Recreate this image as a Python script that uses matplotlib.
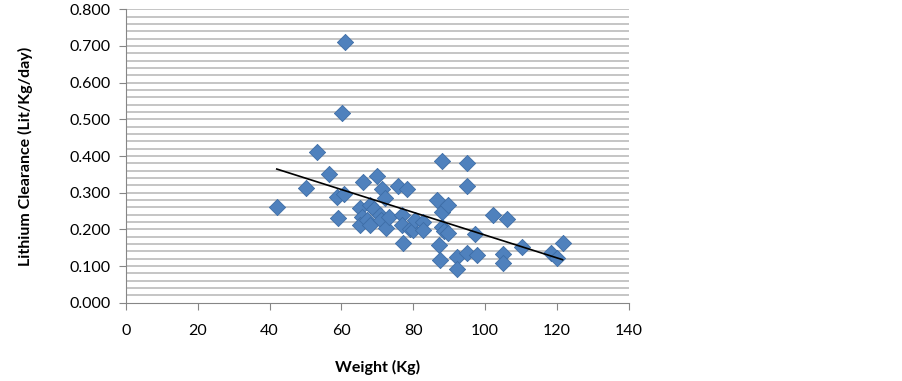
import matplotlib
matplotlib.use("Agg")
import matplotlib.pyplot as plt
import numpy as np

# DATA
weight = [42.0, 50.1, 53.1, 56.5, 58.7, 59.1, 60.1, 61.0, 60.8, 65.3,
          65.8, 65.2, 66.1, 67.0, 68.0, 68.0, 69.0, 70.0, 70.8, 71.0,
          71.2, 72.1, 72.3, 73.3, 75.9, 76.8, 76.8, 77.2, 78.4, 79.0,
          80.0, 80.4, 82.8, 82.8, 86.5, 87.3, 87.5, 87.9, 87.9, 87.9,
          88.5, 89.8, 89.8, 92.1, 92.1, 95.1, 95.1, 95.1, 97.2, 97.7,
          102.1, 105.1, 105.1, 106.0, 110.2, 118.3, 120.0, 121.6]
clearance = [0.260, 0.312, 0.410, 0.351, 0.287, 0.232, 0.518, 0.712, 0.297, 0.259,
             0.235, 0.212, 0.330, 0.225, 0.266, 0.212, 0.255, 0.346, 0.239, 0.225,
             0.310, 0.285, 0.203, 0.233, 0.318, 0.239, 0.212, 0.162, 0.310, 0.200,
             0.198, 0.226, 0.221, 0.198, 0.280, 0.158, 0.117, 0.386, 0.248, 0.207,
             0.195, 0.266, 0.189, 0.125, 0.093, 0.382, 0.319, 0.135, 0.187, 0.129,
             0.238, 0.133, 0.108, 0.229, 0.153, 0.135, 0.121, 0.164]

x_ticks = [0, 20, 40, 60, 80, 100, 120, 140]
y_ticks = [0.0, 0.1, 0.2, 0.3, 0.4, 0.5, 0.6, 0.7, 0.8]

plt.rcParams['font.family'] = ['Lato', 'DejaVu Sans']

fig = plt.figure(figsize=(9.02, 3.81), dpi=100)
ax = fig.add_axes([0.1397, 0.2055, 0.5572, 0.7701])

# gridlines every 0.02
for g in np.arange(0.02, 0.801, 0.02):
    ax.axhline(g, color='#C0C0C0', lw=1.3, zorder=0)

ax.scatter(weight, clearance, marker='D', s=68, color='#4F81BD',
           edgecolor='#3E6DA6', linewidth=0.6, zorder=3)

# linear trend line
m, b = np.polyfit(weight, clearance, 1)
xt = np.array([min(weight), max(weight)])
ax.plot(xt, m * xt + b, color='black', lw=1.2, zorder=4)

ax.set_xlim(0, 140)
ax.set_ylim(0, 0.8)
ax.set_xticks(x_ticks)
ax.set_yticks(y_ticks)
ax.set_yticklabels([f'{v:.3f}' for v in y_ticks])
ax.tick_params(axis='both', labelsize=11.5, length=5, color='#868686', pad=6)
ax.tick_params(axis='x', pad=10)

for s in ['top', 'right']:
    ax.spines[s].set_visible(False)
for s in ['left', 'bottom']:
    ax.spines[s].set_color('#868686')

ax.set_xlabel('Weight (Kg)', fontsize=11.5, fontweight='bold', labelpad=16)
ax.set_ylabel('Lithium Clearance (Lit/Kg/day)', fontsize=11.5, fontweight='bold', labelpad=26)

fig.savefig('out.png', dpi=100)
